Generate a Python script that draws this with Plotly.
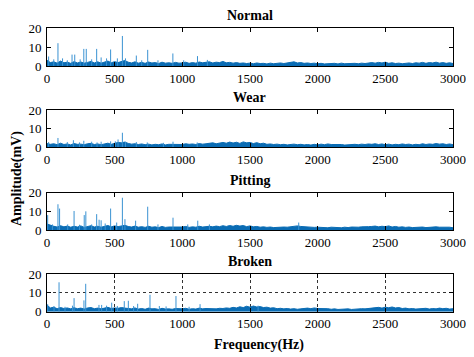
import plotly.graph_objects as go

# ---------------- data ----------------
base_freqs = list(range(0, 3001, 25))  # Hz, noise-floor sample positions

normal_base = [3.0,1.8,2.2,1.5,2.6,1.7,2.0,1.4,2.3,1.6,2.1,1.5,1.9,2.4,1.6,2.2,1.5,2.0,2.6,1.7,2.3,1.8,2.5,2.9,
               2.0,1.6,2.2,1.5,1.9,1.4,2.1,1.6,1.8,1.3,2.0,1.5,1.7,1.4,1.9,1.5,1.6,2.0,1.4,1.8,1.5,2.1,1.7,1.9,
               2.2,1.6,2.0,1.8,2.4,1.7,1.9,1.5,1.8,1.4,1.6,1.3,1.5,1.2,1.6,1.3,1.4,1.1,1.5,1.2,1.4,1.6,1.3,1.7,
               1.9,2.2,1.6,1.8,1.4,1.6,1.3,1.5,1.2,1.4,1.1,1.3,1.2,1.4,1.1,1.5,1.2,1.3,1.1,1.4,1.2,1.5,1.3,1.6,
               1.8,1.5,1.9,1.6,2.0,1.4,1.7,1.3,1.5,1.2,1.4,1.6,1.3,1.7,1.5,1.9,1.4,1.8,1.6,2.0,1.5,1.8,1.4,1.7,1.3]
wear_base = [2.0,1.6,1.9,1.4,2.2,1.5,1.8,1.3,2.0,1.6,1.7,1.4,1.9,2.1,1.5,1.8,1.4,2.0,2.2,1.6,2.3,2.6,2.4,2.8,
             2.1,1.7,1.9,1.5,1.8,1.4,1.7,1.3,1.6,1.4,1.8,1.3,1.6,1.5,1.7,1.4,1.5,1.9,1.6,1.8,1.5,2.0,1.7,1.9,
             2.1,2.4,1.9,2.3,2.6,2.2,2.8,2.3,2.7,2.1,2.9,2.4,2.6,2.0,2.5,1.9,2.2,1.6,1.8,1.5,1.7,1.4,1.6,1.3,
             1.5,1.7,1.4,1.6,1.3,1.5,1.2,1.6,1.3,1.7,1.4,1.8,1.5,1.6,1.3,1.5,1.2,1.4,1.3,1.6,1.4,1.7,1.5,1.8,
             1.6,1.9,1.5,1.8,1.4,1.7,1.3,1.6,1.4,1.8,1.5,1.7,1.3,1.6,1.4,1.9,1.5,1.8,1.6,2.0,1.7,1.9,1.5,1.8,1.4]
pitting_base = [3.2,2.4,2.0,1.6,2.3,1.7,2.1,1.5,2.0,1.6,2.2,1.4,1.9,2.3,1.6,2.0,1.5,2.1,2.4,1.7,2.2,1.8,2.3,2.5,
                1.9,1.6,2.1,1.5,1.8,1.4,2.0,1.5,1.7,1.3,1.9,1.4,1.6,1.5,1.8,1.4,1.6,1.9,1.4,1.7,1.5,2.0,1.6,1.8,
                2.0,1.7,2.1,1.8,2.3,1.9,2.4,2.0,2.5,2.1,2.4,1.8,2.2,1.7,1.9,1.5,1.7,1.4,1.6,1.3,1.5,1.4,1.6,1.5,
                1.8,2.0,2.2,1.9,1.7,1.5,1.6,1.4,1.5,1.3,1.4,1.2,1.5,1.3,1.4,1.2,1.5,1.3,1.6,1.4,1.5,1.7,1.6,1.8,
                1.9,2.1,1.7,2.0,1.8,2.2,1.6,1.9,1.5,1.7,1.4,1.6,1.3,1.5,1.4,1.6,1.3,1.5,1.4,1.7,1.5,1.6,1.3,1.5,1.2]
broken_base = [3.5,2.0,2.4,1.6,2.2,1.7,2.0,1.5,2.1,1.6,1.9,1.4,2.0,2.2,1.6,1.9,1.5,2.1,2.3,1.7,2.0,1.8,2.2,1.9,
               1.8,1.5,2.0,1.4,1.7,1.3,1.9,1.5,1.6,1.2,1.8,1.4,1.5,1.3,1.7,1.4,1.5,1.8,1.3,1.6,1.4,1.9,1.5,1.7,
               1.6,1.9,1.5,1.8,1.7,2.0,1.8,2.3,2.0,2.6,2.2,2.9,2.4,3.0,2.5,2.7,2.2,2.4,1.9,2.1,1.6,1.8,1.5,1.7,
               1.4,1.6,1.3,1.5,1.7,1.9,1.6,2.0,1.7,1.8,1.5,1.6,1.3,1.5,1.2,1.4,1.3,1.5,1.2,1.4,1.3,1.6,1.5,1.8,
               1.7,2.0,2.3,1.9,2.4,2.1,2.5,2.0,2.2,1.7,1.9,1.5,1.7,1.4,1.6,1.5,1.8,1.4,1.7,1.5,1.9,1.6,1.8,1.4,1.6]

normal_peak_f = [12, 50, 81, 115, 150, 185, 205, 245, 272, 290, 330, 367, 400, 440, 470, 520, 557, 580, 660, 700, 744, 820, 930, 1010, 1112, 1185]
normal_peak_a = [5.0, 3.5, 12.0, 4.0, 3.0, 6.0, 6.0, 3.5, 9.0, 9.0, 3.5, 9.0, 4.5, 4.0, 8.7, 4.0, 15.8, 4.0, 5.5, 3.0, 8.5, 3.0, 6.6, 3.0, 5.2, 3.2]
wear_peak_f = [12, 81, 150, 195, 240, 272, 330, 370, 400, 470, 505, 525, 557, 580, 660, 741, 860, 931, 1110]
wear_peak_a = [2.8, 5.0, 2.8, 3.8, 2.6, 3.5, 3.0, 2.6, 3.0, 3.2, 3.2, 4.2, 7.8, 3.0, 2.8, 2.6, 2.4, 3.0, 2.6]
pitting_peak_f = [5, 40, 81, 93, 153, 200, 240, 275, 287, 330, 367, 385, 400, 430, 470, 515, 557, 576, 655, 744, 820, 931, 1040, 1114, 1200, 1860]
pitting_peak_a = [8.0, 3.0, 13.8, 11.5, 3.0, 10.2, 2.8, 8.0, 10.0, 3.0, 8.5, 5.5, 5.2, 3.5, 11.5, 4.0, 17.3, 5.8, 5.0, 12.5, 3.0, 6.6, 3.0, 5.0, 3.0, 4.0]
broken_peak_f = [5, 52, 89, 133, 188, 200, 273, 286, 384, 404, 440, 478, 520, 571, 601, 640, 670, 761, 830, 880, 953, 1050, 1131, 1560]
broken_peak_a = [4.0, 3.0, 15.6, 2.6, 3.2, 7.2, 6.0, 14.8, 3.6, 3.6, 3.2, 4.8, 3.0, 5.6, 5.8, 3.0, 4.2, 9.0, 3.0, 2.8, 8.3, 2.6, 4.0, 3.2]

titles = ["Normal", "Wear", "Pitting", "Broken"]
x_ticks = [0, 500, 1000, 1500, 2000, 2500, 3000]
y_ticks = [0, 10, 20]

panels = [
    (normal_base, normal_peak_f, normal_peak_a),
    (wear_base, wear_peak_f, wear_peak_a),
    (pitting_base, pitting_peak_f, pitting_peak_a),
    (broken_base, broken_peak_f, broken_peak_a),
]

# ---------------- layout geometry ----------------
# the page body has an 8px margin, so the figure is made 8px smaller and
# every target pixel position is shifted by that offset
OFF = 8
W, H = 474 - OFF, 357 - OFF
def px(xp):
    return (xp - OFF) / W
def py(yp):
    return 1 - (yp - OFF) / H

x_dom = [px(47), px(453)]
tops_px = [28, 110, 192.7, 274]
bots_px = [66, 147.3, 230, 311.7]

FONT = "Liberation Serif, Times New Roman, serif"
LINE = "#0a6cb4"
SPIKE = "#3a92d2"

fig = go.Figure()
layout = dict(
    width=W, height=H,
    margin=dict(l=0, r=0, t=0, b=0),
    paper_bgcolor="white", plot_bgcolor="white",
    showlegend=False,
    font=dict(family=FONT, size=13, color="black"),
    annotations=[],
)

for i, (base, pf, pa) in enumerate(panels):
    n = "" if i == 0 else str(i + 1)
    xref, yref = "x" + n, "y" + n
    # noise floor
    fig.add_trace(go.Scatter(x=base_freqs, y=base, mode="lines",
                             line=dict(color=LINE, width=1), fill="tozeroy",
                             fillcolor=LINE, xaxis=xref, yaxis=yref, hoverinfo="skip"))
    # spectral peaks as vertical stems
    sx, sy = [], []
    for f, a in zip(pf, pa):
        sx += [f, f, None]
        sy += [0, a, None]
    fig.add_trace(go.Scatter(x=sx, y=sy, mode="lines",
                             line=dict(color=SPIKE, width=1),
                             xaxis=xref, yaxis=yref, hoverinfo="skip"))
    grid = (i == 3)
    ax_common = dict(ticks="inside", ticklen=4, tickcolor="black", tickwidth=1,
                     showline=True, linecolor="black", linewidth=1, mirror="ticks",
                     zeroline=False, automargin=False,
                     tickfont=dict(family=FONT, size=13, color="black"),
                     showgrid=grid, gridcolor="#333", griddash="dot", gridwidth=1)
    layout["xaxis" + n] = dict(ax_common, range=[0, 3000], tickvals=x_ticks,
                               domain=x_dom, anchor=yref)
    layout["yaxis" + n] = dict(ax_common, range=[0, 20], tickvals=y_ticks,
                               domain=[py(bots_px[i]), py(tops_px[i])],
                               anchor=xref, ticklabelstandoff=2)
    layout["annotations"].append(dict(
        text="<b>" + titles[i] + "</b>", xref="paper", yref="paper",
        x=(x_dom[0] + x_dom[1]) / 2, y=py(tops_px[i]), xanchor="center",
        yanchor="bottom", yshift=3, showarrow=False,
        font=dict(family=FONT, size=14, color="black")))

layout["annotations"].append(dict(
    text="<b>Frequency(Hz)</b>", xref="paper", yref="paper",
    x=px(259), y=py(345), xanchor="center", yanchor="middle", showarrow=False,
    font=dict(family=FONT, size=14, color="black")))
layout["annotations"].append(dict(
    text="<b>Amplitude(mV)</b>", xref="paper", yref="paper", textangle=-90,
    x=0, y=py(179), xanchor="left", yanchor="middle", showarrow=False,
    borderpad=0, font=dict(family=FONT, size=14, color="black")))

fig.update_layout(**layout)
fig.write_html("out.html")
